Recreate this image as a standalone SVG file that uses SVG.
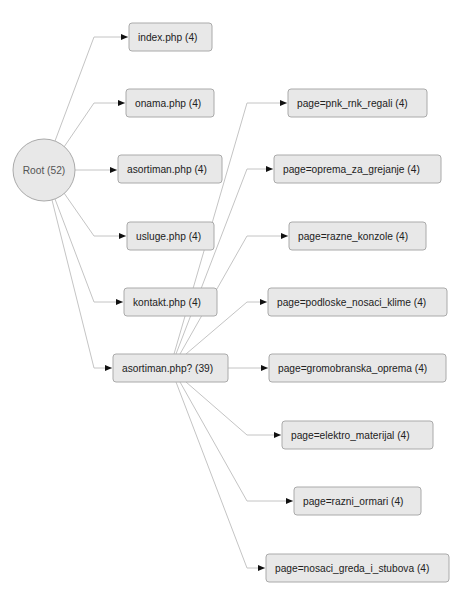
<svg xmlns="http://www.w3.org/2000/svg" width="474" height="595" viewBox="0 0 474 595">
<style>
.edge{fill:none;stroke:#c4c4c4;stroke-width:1;marker-end:url(#arr)}
.box{fill:#e8e8e8;stroke:#aaaaaa;stroke-width:1}
.lbl{font-family:"Liberation Sans",Arial,sans-serif;font-size:10.2px;fill:#222}
.root{font-family:"Liberation Sans",Arial,sans-serif;font-size:10.2px;fill:#555;text-anchor:middle}
</style>
<defs>
<marker id="arr" markerUnits="userSpaceOnUse" markerWidth="7" markerHeight="6" refX="7" refY="3" orient="auto">
<path d="M0,0 L7,3 L0,6 z" fill="#111"/>
</marker>
</defs>
<rect width="474" height="595" fill="#fff"/>
<g id="connectors">
<path class="edge" d="M55,141 L94,37 L128,37"/>
<path class="edge" d="M64,147 L94,103 L125,103"/>
<path class="edge" d="M75,170 L117,170"/>
<path class="edge" d="M64,193 L94,236 L126,236"/>
<path class="edge" d="M55,199 L94,302 L123,302"/>
<path class="edge" d="M52,200 L94,368 L112,368"/>
<path class="edge" d="M174,354 L247,103 L287,103"/>
<path class="edge" d="M176,354 L247,169 L273,169"/>
<path class="edge" d="M180,354 L247,236 L288,236"/>
<path class="edge" d="M186,354 L247,302 L267,302"/>
<path class="edge" d="M228,368 L268,368"/>
<path class="edge" d="M186,382 L247,435 L281,435"/>
<path class="edge" d="M180,382 L247,501 L293,501"/>
<path class="edge" d="M176,382 L247,568 L265,568"/>
</g>
<g id="root"><circle class="box" cx="44" cy="170" r="31"/><text class="root" x="44" y="174">Root (52)</text></g>
<g id="n-index"><rect class="box" x="129" y="23" width="83" height="28" rx="3"/><text class="lbl" x="138" y="41">index.php (4)</text></g>
<g id="n-onama"><rect class="box" x="126" y="89" width="88" height="28" rx="3"/><text class="lbl" x="135" y="107">onama.php (4)</text></g>
<g id="n-asortiman"><rect class="box" x="118" y="155" width="104" height="28" rx="3"/><text class="lbl" x="127" y="173">asortiman.php (4)</text></g>
<g id="n-usluge"><rect class="box" x="127" y="222" width="87" height="28" rx="3"/><text class="lbl" x="136" y="240">usluge.php (4)</text></g>
<g id="n-kontakt"><rect class="box" x="124" y="288" width="93" height="28" rx="3"/><text class="lbl" x="133" y="306">kontakt.php (4)</text></g>
<g id="n-asortiman-q"><rect class="box" x="113" y="354" width="115" height="28" rx="3"/><text class="lbl" x="122" y="372">asortiman.php? (39)</text></g>
<g id="n-pnk"><rect class="box" x="288" y="89" width="139" height="28" rx="3"/><text class="lbl" x="297" y="107">page=pnk_rnk_regali (4)</text></g>
<g id="n-oprema"><rect class="box" x="274" y="155" width="167" height="28" rx="3"/><text class="lbl" x="283" y="173">page=oprema_za_grejanje (4)</text></g>
<g id="n-konzole"><rect class="box" x="289" y="222" width="137" height="28" rx="3"/><text class="lbl" x="298" y="240">page=razne_konzole (4)</text></g>
<g id="n-podloske"><rect class="box" x="268" y="288" width="179" height="28" rx="3"/><text class="lbl" x="277" y="306">page=podloske_nosaci_klime (4)</text></g>
<g id="n-gromo"><rect class="box" x="269" y="354" width="177" height="28" rx="3"/><text class="lbl" x="278" y="372">page=gromobranska_oprema (4)</text></g>
<g id="n-elektro"><rect class="box" x="282" y="421" width="151" height="28" rx="3"/><text class="lbl" x="291" y="439">page=elektro_materijal (4)</text></g>
<g id="n-ormari"><rect class="box" x="294" y="487" width="127" height="28" rx="3"/><text class="lbl" x="303" y="505">page=razni_ormari (4)</text></g>
<g id="n-nosaci"><rect class="box" x="266" y="554" width="183" height="28" rx="3"/><text class="lbl" x="275" y="572">page=nosaci_greda_i_stubova (4)</text></g>
</svg>
